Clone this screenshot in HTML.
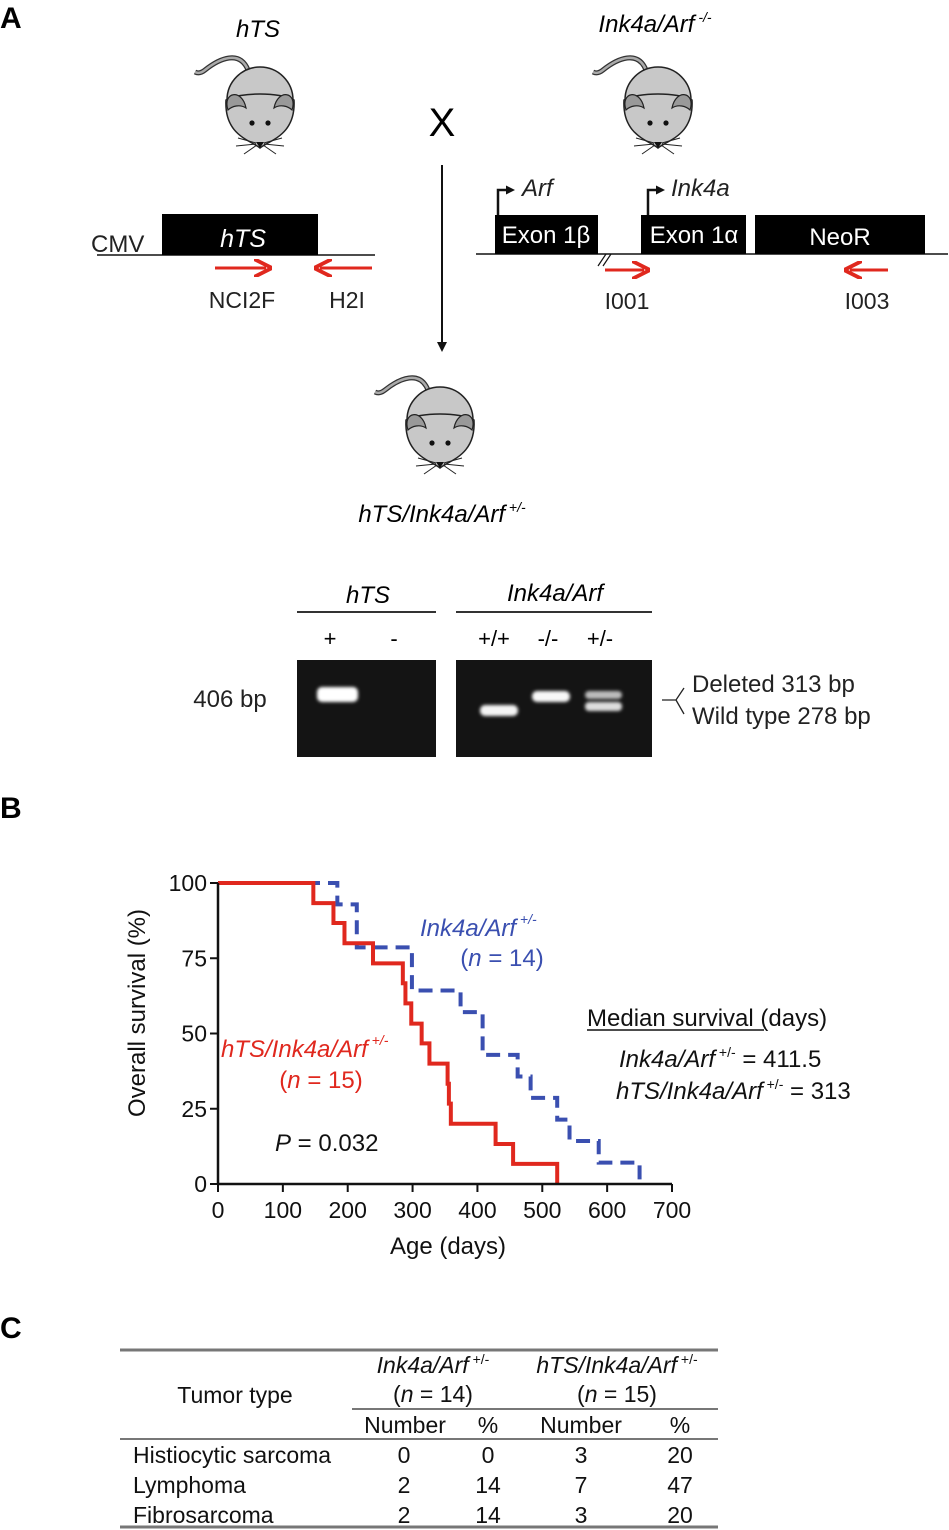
<!DOCTYPE html>
<html><head><meta charset="utf-8"><style>
html,body{margin:0;padding:0;background:#fff}
svg{display:block;font-family:"Liberation Sans",sans-serif}
</style></head><body>
<svg id="fig" width="949" height="1530" viewBox="0 0 949 1530" xmlns="http://www.w3.org/2000/svg">
<defs>
<filter id="glow" x="-30%" y="-80%" width="160%" height="260%"><feGaussianBlur stdDeviation="1.6"/></filter>
<g id="mouse">
<path d="M-12,-30 C-20,-50 -40,-42 -55,-30 C-60,-26 -63,-27 -65,-28" fill="none" stroke="#333" stroke-width="5"/>
<path d="M-12,-30 C-20,-50 -40,-42 -55,-30 C-60,-26 -63,-27 -65,-28" fill="none" stroke="#aaa" stroke-width="2.5"/>
<circle cx="0" cy="0" r="33" fill="#c8c8c8" stroke="#222" stroke-width="1.5"/>
<path d="M-34,0 C-36,35 -10,40 0,48 C10,40 36,35 34,0 C20,-8 -20,-8 -34,0Z" fill="#c8c8c8" stroke="#222" stroke-width="1.5"/>
<path d="M-32,10 C-38,-8 -18,-12 -14,8 C-20,4 -28,6 -32,10Z" fill="#999" stroke="#222" stroke-width="1.2"/>
<path d="M32,10 C38,-8 18,-12 14,8 C20,4 28,6 32,10Z" fill="#999" stroke="#222" stroke-width="1.2"/>
<circle cx="-8" cy="23" r="2.6" fill="#111"/><circle cx="8" cy="23" r="2.6" fill="#111"/>
<path d="M-4,42 L4,42 L0,48Z" fill="#111"/>
<path d="M-4,43 L-22,38 M-4,44 L-24,46 M-3,45 L-16,54 M4,43 L22,38 M4,44 L24,46 M3,45 L16,54" stroke="#222" stroke-width="1" fill="none"/>
</g>
<marker id="ah" markerUnits="userSpaceOnUse" markerWidth="10" markerHeight="10" refX="8" refY="5" orient="auto"><path d="M0,0 L10,5 L0,10Z" fill="#111"/></marker>
<marker id="ph" markerUnits="userSpaceOnUse" markerWidth="9" markerHeight="9" refX="2" refY="4.5" orient="auto"><path d="M0,0 L9,4.5 L0,9Z" fill="#111"/></marker>
<marker id="rh" markerWidth="6" markerHeight="6" refX="4" refY="3" orient="auto"><path d="M0,0 L6,3 L0,6" fill="none" stroke="#e0281e" stroke-width="1.3"/></marker>
</defs>

<text x="0" y="28" font-size="30" font-weight="bold">A</text>
<text x="0" y="818" font-size="30" font-weight="bold">B</text>
<text x="0" y="1338" font-size="30" font-weight="bold">C</text>

<!-- Panel A -->
<text x="258" y="37" font-size="24" font-style="italic" text-anchor="middle">hTS</text>
<text x="655" y="32" font-size="24" font-style="italic" text-anchor="middle">Ink4a/Arf<tspan font-size="14" dy="-10"> -/-</tspan></text>
<use href="#mouse" x="260" y="100"/>
<use href="#mouse" x="658" y="100"/>
<use href="#mouse" x="440" y="420"/>
<text x="442" y="136" font-size="40" text-anchor="middle">X</text>
<line x1="442" y1="165" x2="442" y2="350" stroke="#111" stroke-width="2" marker-end="url(#ah)"/>

<g>
<line x1="97" y1="255" x2="375" y2="255" stroke="#111" stroke-width="1.5"/>
<rect x="162" y="214" width="156" height="41" fill="#000"/>
<text x="243" y="247" font-size="25" font-style="italic" fill="#fff" text-anchor="middle">hTS</text>
<text x="91" y="252" font-size="24" fill="#222">CMV</text>
<line x1="215" y1="268" x2="266" y2="268" stroke="#e0281e" stroke-width="3" marker-end="url(#rh)"/>
<line x1="372" y1="268" x2="320" y2="268" stroke="#e0281e" stroke-width="3" marker-end="url(#rh)"/>
<text x="242" y="308" font-size="23" text-anchor="middle" fill="#222">NCI2F</text>
<text x="347" y="308" font-size="23" text-anchor="middle" fill="#222">H2I</text>
</g>

<g>
<line x1="476" y1="254" x2="948" y2="254" stroke="#111" stroke-width="1.5"/>
<rect x="495" y="215" width="103" height="39" fill="#000"/>
<rect x="641" y="215" width="105" height="39" fill="#000"/>
<rect x="755" y="215" width="170" height="39" fill="#000"/>
<text x="546" y="243" font-size="24" fill="#fff" text-anchor="middle">Exon 1β</text>
<text x="694" y="243" font-size="24" fill="#fff" text-anchor="middle">Exon 1α</text>
<text x="840" y="245" font-size="24" fill="#fff" text-anchor="middle">NeoR</text>
<path d="M598,266 L606,254 M603,266 L611,254" stroke="#111" stroke-width="1.2"/>
<path d="M498,215 L498,190 L508,190" fill="none" stroke="#111" stroke-width="2.5" marker-end="url(#ph)"/>
<path d="M648,215 L648,190 L658,190" fill="none" stroke="#111" stroke-width="2.5" marker-end="url(#ph)"/>
<text x="522" y="196" font-size="24" font-style="italic" fill="#222">Arf</text>
<text x="671" y="196" font-size="24" font-style="italic" fill="#222">Ink4a</text>
<line x1="605" y1="270" x2="644" y2="270" stroke="#e0281e" stroke-width="3" marker-end="url(#rh)"/>
<line x1="888" y1="270" x2="850" y2="270" stroke="#e0281e" stroke-width="3" marker-end="url(#rh)"/>
<text x="627" y="309" font-size="23" text-anchor="middle" fill="#222">I001</text>
<text x="867" y="309" font-size="23" text-anchor="middle" fill="#222">I003</text>
</g>

<text x="442" y="522" font-size="24" font-style="italic" text-anchor="middle">hTS/Ink4a/Arf<tspan font-size="14" dy="-10"> +/-</tspan></text>

<g>
<text x="368" y="603" font-size="24" font-style="italic" text-anchor="middle">hTS</text>
<line x1="297" y1="612" x2="436" y2="612" stroke="#333" stroke-width="2"/>
<text x="555" y="601" font-size="24" font-style="italic" text-anchor="middle">Ink4a/Arf</text>
<line x1="456" y1="612" x2="652" y2="612" stroke="#333" stroke-width="2"/>
<text x="330" y="646" font-size="22" text-anchor="middle">+</text>
<text x="394" y="646" font-size="22" text-anchor="middle">-</text>
<text x="494" y="646" font-size="22" text-anchor="middle">+/+</text>
<text x="548" y="646" font-size="22" text-anchor="middle">-/-</text>
<text x="600" y="646" font-size="22" text-anchor="middle">+/-</text>
<rect x="297" y="660" width="139" height="97" fill="#141414"/>
<rect x="456" y="660" width="196" height="97" fill="#141414"/>
<g filter="url(#glow)">
<rect x="317" y="687" width="41" height="15" rx="5" fill="#fff"/>
<rect x="480" y="705" width="38" height="11" rx="5" fill="#f4f4f4"/>
<rect x="532" y="691" width="38" height="11" rx="5" fill="#f8f8f8"/>
<rect x="585" y="691" width="37" height="8" rx="4" fill="#bbb"/>
<rect x="585" y="702" width="37" height="9" rx="4" fill="#ddd"/>
</g>
<text x="230" y="707" font-size="24" text-anchor="middle" fill="#222">406 bp</text>
<path d="M662,700 L676,700 L684,688 M676,700 L684,714" fill="none" stroke="#222" stroke-width="1.3"/>
<text x="692" y="692" font-size="24" fill="#222">Deleted 313 bp</text>
<text x="692" y="724" font-size="24" fill="#222">Wild type 278 bp</text>
</g>

<!-- Panel B chart -->
<g id="chart"></g>

<text x="420" y="936" font-size="24" font-style="italic" fill="#3a4fb0">Ink4a/Arf<tspan font-size="14" dy="-12"> +/-</tspan></text>
<text x="502" y="966" font-size="24" fill="#3a4fb0" text-anchor="middle">(<tspan font-style="italic">n</tspan> = 14)</text>
<text x="221" y="1057" font-size="24" font-style="italic" fill="#e0281e">hTS/Ink4a/Arf<tspan font-size="14" dy="-12"> +/-</tspan></text>
<text x="321" y="1088" font-size="24" fill="#e0281e" text-anchor="middle">(<tspan font-style="italic">n</tspan> = 15)</text>
<text x="275" y="1151" font-size="24" fill="#111"><tspan font-style="italic">P</tspan> = 0.032</text>
<g font-size="24" fill="#111">
<text x="587" y="1026">Median survival (days)</text>
<line x1="587" y1="1030" x2="764" y2="1030" stroke="#111" stroke-width="1.5"/>
<text x="619" y="1067"><tspan font-style="italic">Ink4a/Arf</tspan><tspan font-size="14" dy="-10"> +/-</tspan><tspan dy="10">    = 411.5</tspan></text>
<text x="616" y="1099"><tspan font-style="italic">hTS/Ink4a/Arf</tspan><tspan font-size="14" dy="-10"> +/-</tspan><tspan dy="10">  = 313</tspan></text>
</g>

<!-- Panel C table -->
<g font-size="23" fill="#111">
<line x1="120" y1="1350" x2="718" y2="1350" stroke="#777" stroke-width="3"/>
<line x1="352" y1="1409" x2="718" y2="1409" stroke="#777" stroke-width="2"/>
<line x1="120" y1="1439" x2="718" y2="1439" stroke="#777" stroke-width="2"/>
<line x1="120" y1="1527" x2="718" y2="1527" stroke="#777" stroke-width="3"/>
<text x="235" y="1403" text-anchor="middle">Tumor type</text>
<text x="433" y="1373" text-anchor="middle" font-style="italic">Ink4a/Arf<tspan font-size="14" dy="-9" font-style="normal"> +/-</tspan></text>
<text x="433" y="1402" text-anchor="middle">(<tspan font-style="italic">n</tspan> = 14)</text>
<text x="617" y="1373" text-anchor="middle" font-style="italic">hTS/Ink4a/Arf<tspan font-size="14" dy="-9" font-style="normal"> +/-</tspan></text>
<text x="617" y="1402" text-anchor="middle">(<tspan font-style="italic">n</tspan> = 15)</text>
<text x="405" y="1433" text-anchor="middle">Number</text>
<text x="488" y="1433" text-anchor="middle">%</text>
<text x="581" y="1433" text-anchor="middle">Number</text>
<text x="680" y="1433" text-anchor="middle">%</text>
<text x="133" y="1463">Histiocytic sarcoma</text>
<text x="404" y="1463" text-anchor="middle">0</text><text x="488" y="1463" text-anchor="middle">0</text><text x="581" y="1463" text-anchor="middle">3</text><text x="680" y="1463" text-anchor="middle">20</text>
<text x="133" y="1493">Lymphoma</text>
<text x="404" y="1493" text-anchor="middle">2</text><text x="488" y="1493" text-anchor="middle">14</text><text x="581" y="1493" text-anchor="middle">7</text><text x="680" y="1493" text-anchor="middle">47</text>
<text x="133" y="1523">Fibrosarcoma</text>
<text x="404" y="1523" text-anchor="middle">2</text><text x="488" y="1523" text-anchor="middle">14</text><text x="581" y="1523" text-anchor="middle">3</text><text x="680" y="1523" text-anchor="middle">20</text>
</g>
</svg>
<script>
const xTicks = [0,100,200,300,400,500,600,700];
const yTicks = [0,25,50,75,100];
const redTimes = [0,147,178,195,239,285,289,298,314,326,354,356,359,428,455,523];
const redSurv = [100,93.3,86.7,80,73.3,66.7,60,53.3,46.7,40,33.3,26.7,20,13.3,6.7,0];
const blueTimes = [0,184,214,299,374,408,462,482,523,542,587,650];
const blueSurv = [100,92.9,78.6,64.3,57.1,42.9,35.7,28.6,21.4,14.3,7.1,0];

const NS='http://www.w3.org/2000/svg';
const X0=218,X1=672,Y0=1184,Y1=883;
function xs(d){return X0+(d/700)*(X1-X0);}
function ys(v){return Y0-(v/100)*(Y0-Y1);}
const g=document.getElementById('chart');
function mk(tag,attrs){const e=document.createElementNS(NS,tag);for(const k in attrs)e.setAttribute(k,attrs[k]);g.appendChild(e);return e;}
function stepPath(t,s){let d='M'+xs(t[0])+','+ys(s[0]);for(let i=1;i<t.length;i++){d+=' H'+xs(t[i])+' V'+ys(s[i]);}return d;}

const blue=mk('path',{d:stepPath(blueTimes,blueSurv),fill:'none',stroke:'#3a4fb0','stroke-width':4,'stroke-dasharray':'14,8'});


const red=mk('path',{d:stepPath(redTimes,redSurv),fill:'none',stroke:'#e0281e','stroke-width':4});



const ya=mk('line',{x1:X0,y1:Y1,x2:X0,y2:Y0,stroke:'#111','stroke-width':2.5});


const xa=mk('line',{x1:X0,y1:Y0,x2:X1,y2:Y0,stroke:'#111','stroke-width':2.5});


yTicks.forEach(v=>{
  mk('line',{x1:X0-8,y1:ys(v),x2:X0,y2:ys(v),stroke:'#111','stroke-width':2});
  const t=mk('text',{x:X0-11,y:ys(v)+8,'font-size':23,'text-anchor':'end',fill:'#111'});
  t.textContent=v;
  
  
});
xTicks.forEach(v=>{
  mk('line',{x1:xs(v),y1:Y0,x2:xs(v),y2:Y0+8,stroke:'#111','stroke-width':2});
  const t=mk('text',{x:xs(v),y:Y0+34,'font-size':23,'text-anchor':'middle',fill:'#111'});
  t.textContent=v;
  
  
});
const xt=mk('text',{x:448,y:1254,'font-size':24,'text-anchor':'middle',fill:'#111'});
xt.textContent='Age (days)';


const yt=mk('text',{x:0,y:0,'font-size':24,'text-anchor':'middle',fill:'#111',transform:'translate(145,1013) rotate(-90)'});
yt.textContent='Overall survival (%)';


</script>
</body></html>
